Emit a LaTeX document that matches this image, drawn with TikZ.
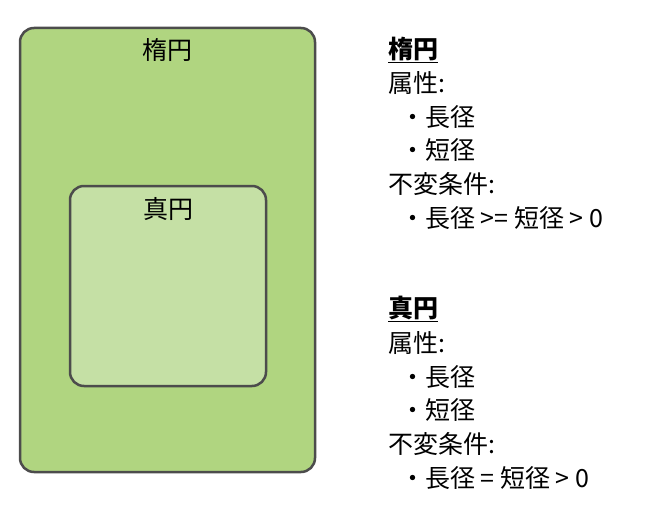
\documentclass[tikz,border=0pt]{standalone}
\usepackage{fontspec}
\setmainfont{Noto Sans CJK JP}
\begin{document}
\begin{tikzpicture}[x=1pt,y=-1pt,
  box/.style={draw=black!70,line width=2.5pt,rounded corners=14pt},
  lbl/.style={font=\fontsize{25}{28}\selectfont,anchor=west,inner sep=0pt}]
\useasboundingbox (0,0) rectangle (666,516);
\draw[box,fill={rgb,255:red,176;green,213;blue,128}] (20,28) rectangle (315,472);
\node[font=\fontsize{25}{28}\selectfont] (o) at (167,50) {楕円};
\draw[box,fill={rgb,255:red,197;green,224;blue,165}] (70,186) rectangle (266,386);
\node[font=\fontsize{25}{28}\selectfont] (i) at (168,209) {真円};
\node[lbl] (a1) at (388,50) {\textbf{\underline{楕円}}};
\node[lbl] (a2) at (388,83) {属性:};
\node[lbl] (a3) at (400,117) {・長径};
\node[lbl] (a4) at (400,150) {・短径};
\node[lbl] (a5) at (388,184) {不変条件:};
\node[lbl] (a6) at (400,218) {・長径 >= 短径 > 0};
\node[lbl] (b1) at (388,309) {\textbf{\underline{真円}}};
\node[lbl] (b2) at (388,343) {属性:};
\node[lbl] (b3) at (400,377) {・長径};
\node[lbl] (b4) at (400,410) {・短径};
\node[lbl] (b5) at (388,444) {不変条件:};
\node[lbl] (b6) at (400,478) {・長径 = 短径 > 0};
\end{tikzpicture}
\end{document}
